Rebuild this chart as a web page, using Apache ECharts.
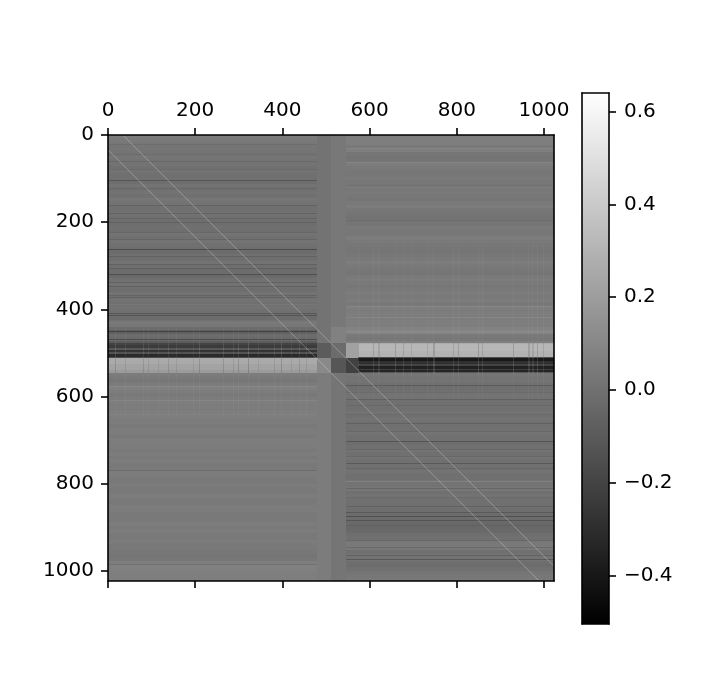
<!DOCTYPE html>
<html><head><meta charset="utf-8">
<style>html,body{margin:0;padding:0;background:#fff}#c{width:720px;height:686px}</style>
<script src="https://cdn.jsdelivr.net/npm/echarts@6/dist/echarts.min.js"></script>
</head><body><div id="c"></div>
<script>
const xTicks=[0,200,400,600,800,1000];
const yTicks=[0,200,400,600,800,1000];
const barTicks=[-0.4,-0.2,0,0.2,0.4,0.6];
const valueMin=-0.505, valueMax=0.64;
const rowStep=8;
// left block, rows from 0 to 480, one value per 8 rows
const leftTop=[0.05,0.04,0.03,0.02,0.02,0.01,0.02,0.01,0.01,0,0.01,0,0,-0.01,0.01,0,0.01,0,0.02,0.01,0,0,0.01,0,-0.01,-0.01,0,-0.01,0.01,0,0.01,0,-0.01,-0.02,0,-0.01,0.01,-0.01,-0.02,-0.02,-0.03,0,0.01,0,-0.01,0.01,0,0.01,0,0.01,0,-0.03,-0.02,0.01,0.03,-0.02,-0.07,-0.02,-0.03,-0.09];
// left block, rows from 544 to 1024
const leftBottom=[0.05,0.04,0.03,0.05,0.07,0.05,0.04,0.05,0.06,0.05,0.05,0.06,0.06,0.05,0.05,0.04,0.05,0.05,0.04,0.05,0.05,0.05,0.04,0.05,0.04,0.05,0.04,0.04,0.05,0.05,0.04,0.04,0.05,0.04,0.04,0.05,0.04,0.04,0.05,0.05,0.04,0.04,0.04,0.05,0.04,0.05,0.04,0.04,0.05,0.04,0.04,0.03,0.02,0.03,0.06,0.07,0.07,0.06,0.06,0.06];
// right block, rows from 0 to 480
const rightTop=[0.06,0.06,0.06,0.04,0.06,0.02,0.01,0.02,0.05,0.04,0.03,0.03,0.04,0.03,0.02,0.03,0.04,0.03,0.02,0.04,0.05,0.03,0.02,0.01,0.01,0.02,0.04,0.03,0.03,0.05,0.04,0.03,0.02,0.02,0.03,0.04,0.05,0.04,0.03,0.02,0.04,0.05,0.04,0.03,0.04,0.05,0.04,0.05,0.04,0.06,0.05,0.06,0.05,0.06,0.06,0.08,0.09,0.04,0.03,0.06];
// right block, rows from 544 to 1024
const rightBottom=[0.02,0.01,0.01,0,-0.01,0,0.01,0.01,0,0,0,0.01,0,0.01,0,0,0,0.01,0,0,-0.01,0,0.01,0,0.01,0,0,0,0.01,0,0,0.01,0.01,0.03,0,0.01,0,0,0,-0.01,-0.02,-0.02,-0.03,-0.04,-0.04,-0.03,-0.01,0,0.03,0.04,0.04,0,0.01,0.01,-0.01,-0.02,0,0.02,0.03,0.04];
const leftStreaks=[[20,-0.01],[44,-0.02],[60,-0.04],[78,-0.03],[103,-0.12],[122,-0.04],[145,0.03],[160,-0.06],[178,-0.07],[190,-0.06],[199,-0.07],[222,-0.04],[238,-0.05],[262,-0.17],[277,-0.07],[295,-0.07],[304,-0.08],[319,-0.15],[337,-0.07],[346,-0.07],[366,-0.06],[372,-0.06],[388,0.03],[409,-0.11],[413,-0.13],[428,0.05],[449,-0.21],[468,-0.17],[576,0.1],[608,0.09],[640,0.08],[700,0.06],[768,-0.02],[985,0]];
const rightStreaks=[[30,0.09],[62,0.09],[120,0.06],[196,-0.01],[288,0.06],[393,0.09],[417,0.1],[449,0.12],[573,-0.09],[590,-0.03],[605,-0.07],[619,-0.04],[640,-0.03],[661,-0.07],[680,-0.04],[701,-0.13],[720,-0.04],[736,-0.04],[752,-0.1],[764,-0.05],[794,0.08],[810,-0.05],[830,-0.03],[852,-0.07],[864,-0.11],[875,-0.15],[883,-0.13],[894,-0.07],[906,-0.04],[930,-0.04],[945,-0.03],[963,-0.07],[972,-0.11]];
// row bands: from, to, value
const leftBands=[[476,482,-0.203],[482,489,-0.242],[489,493,-0.108],[493,498,-0.27],[498,502,-0.136],[502,509,-0.318],[509,511,-0.165],[511,526,0.257],[526,538,0.228],[538,546,0.19]];
const rightBands=[[476,480,0.267],[480,495,0.315],[495,509,0.296],[509,512,-0.165],[512,518,-0.395],[518,526,-0.29],[526,530,-0.203],[530,536,-0.357],[536,539,-0.232],[539,544,-0.338],[544,546,-0.117]];
const leftStripeCols=[16,39,80,92,115,138,156,195,209,264,287,298,321,344,381,397,420,438,454];
const leftStripeSize=[0.1,0.06,0.08,0.06,0.05,0.08,0.06,0.05,0.1,0.09,0.06,0.1,0.12,0.05,0.07,0.11,0.05,0.08,0.06];
const rightStripeCols=[573,607,620,658,677,695,731,746,791,803,849,857,929,964,973,983,998];
const rightStripeSize=[0.09,0.1,0.08,0.12,0.09,0.07,0.08,0.11,0.08,0.1,0.13,0.09,0.12,0.1,0.08,0.12,0.08];
// x from, x to, y from, y to, value
const centerCells=[[480,511,0,476,0.01],[480,511,476,511,-0.09],[480,511,511,546,0.11],[480,511,546,1024,0.05],
 [511,545,0,440,0.035],[511,545,440,476,0.075],[511,545,476,511,-0.02],[511,545,511,546,-0.117],[511,545,546,1024,0.022],
 [545,575,476,511,0.219],[545,575,511,546,-0.213]];
const lowerDiagonal=[[0,34],[989,1023]];
const upperDiagonal=[[34,0],[1023,989]];
const barRange=[valueMin,valueMax];

const LX=[0,480], RX=[545,1024], RX2=[575,1024];
const cells=[];
function addRows(vals,start,x){vals.forEach((v,i)=>cells.push([x[0],x[1],start+i*rowStep,start+(i+1)*rowStep,v]));}
addRows(leftTop,0,LX);addRows(leftBottom,544,LX);addRows(rightTop,0,RX);addRows(rightBottom,544,RX);
leftStreaks.forEach(s=>cells.push([LX[0],LX[1],s[0],s[0]+2,s[1]]));
rightStreaks.forEach(s=>cells.push([RX[0],RX[1],s[0],s[0]+2,s[1]]));
centerCells.forEach(c=>cells.push(c));
leftBands.forEach(b=>cells.push([LX[0],LX[1],b[0],b[1],b[2]]));
rightBands.forEach(b=>cells.push([RX2[0],RX2[1],b[0],b[1],b[2]]));
function addStripes(bands,cols,sizes){bands.forEach(b=>cols.forEach((x,i)=>{
  const v=b[2]<0?b[2]+sizes[i]:b[2]-sizes[i];cells.push([x,x+3,b[0],b[1],v]);}));}
addStripes(leftBands,leftStripeCols,leftStripeSize);
addStripes(rightBands,rightStripeCols,rightStripeSize);
const veil=[];
leftStripeCols.forEach(x=>{veil.push([x,x+2,440,476]);veil.push([x,x+2,546,640]);});
rightStripeCols.forEach(x=>{veil.push([x,x+2,250,476]);veil.push([x,x+2,546,600]);});

function rectOf(api){
  const a=api.coord([api.value(0),api.value(2)]),b=api.coord([api.value(1),api.value(3)]);
  const x=Math.round(Math.min(a[0],b[0])),y=Math.round(Math.min(a[1],b[1]));
  return {x,y,width:Math.max(1,Math.round(Math.max(a[0],b[0]))-x),height:Math.max(1,Math.round(Math.max(a[1],b[1]))-y)};
}
const font={fontFamily:'DejaVu Sans',fontSize:20,color:'#000'};
const line={show:true,onZero:false,lineStyle:{color:'#000',width:1.6}};
const tick={show:true,length:7,inside:false,lineStyle:{color:'#000',width:1.6}};
function xa(pos,grid,labels){return {type:'value',gridIndex:grid,position:pos,min:0,max:1023,z:10,splitLine:{show:false},axisLine:line,
  axisTick:{...tick,customValues:xTicks},axisLabel:{show:labels,...font,margin:14,customValues:xTicks,formatter:v=>String(v)}};}
function ya(pos,labels,ticks){return {type:'value',gridIndex:0,position:pos,inverse:true,min:0,max:1023,z:10,splitLine:{show:false},axisLine:line,
  axisTick:ticks?{...tick,customValues:yTicks}:{show:false},axisLabel:{show:labels,...font,margin:14,padding:[5,0,0,0],lineHeight:24,customValues:yTicks,formatter:v=>String(v)}};}
const barY={type:'value',gridIndex:1,position:'right',min:valueMin,max:valueMax,z:10,splitLine:{show:false},axisLine:line,
  axisTick:{...tick,customValues:barTicks},axisLabel:{...font,margin:15,padding:[5,0,0,0],lineHeight:24,customValues:barTicks,formatter:v=>v.toFixed(1).replace('-','\u2212')}};
const barYL={type:'value',gridIndex:1,position:'left',min:valueMin,max:valueMax,z:10,splitLine:{show:false},axisLine:line,axisTick:{show:false},axisLabel:{show:false}};
const barX=p=>({type:'value',gridIndex:1,position:p,min:0,max:1,z:10,splitLine:{show:false},axisLine:line,axisTick:{show:false},axisLabel:{show:false}});
const diag=d=>({type:'line',xAxisIndex:0,yAxisIndex:0,data:d,symbol:'none',silent:true,z:5,animation:false,
  lineStyle:{color:'rgba(255,255,255,0.28)',width:1}});
const chart=echarts.init(document.getElementById('c'),null,{renderer:'canvas'});
chart.setOption({animation:false,backgroundColor:'#fff',
 grid:[{left:108,top:135,width:446,height:446},{left:582,top:93,width:27,height:531}],
 xAxis:[xa('top',0,true),xa('bottom',0,false),barX('top'),barX('bottom')],
 yAxis:[ya('left',true,true),ya('right',false,false),barY,barYL],
 visualMap:{show:false,type:'continuous',seriesIndex:0,dimension:4,min:valueMin,max:valueMax,inRange:{color:['#000000','#ffffff']}},
 series:[
  {type:'custom',xAxisIndex:0,yAxisIndex:0,data:cells,encode:{x:[0,1],y:[2,3]},clip:true,silent:true,z:2,
   renderItem:(p,api)=>({type:'rect',shape:rectOf(api),style:{fill:api.visual('color')}})},
  {type:'custom',xAxisIndex:0,yAxisIndex:0,data:veil,encode:{x:[0,1],y:[2,3]},clip:true,silent:true,z:3,
   renderItem:(p,api)=>({type:'rect',shape:rectOf(api),style:{fill:'rgba(255,255,255,0.035)'}})},
  diag(lowerDiagonal),diag(upperDiagonal),
  {type:'custom',xAxisIndex:2,yAxisIndex:2,data:[[0,1,barRange[0],barRange[1]]],encode:{x:[0,1],y:[2,3]},silent:true,z:2,
   renderItem:(p,api)=>({type:'rect',shape:rectOf(api),style:{fill:new echarts.graphic.LinearGradient(0,0,0,1,[{offset:0,color:'#ffffff'},{offset:1,color:'#000000'}])}})}
 ]});
</script></body></html>
